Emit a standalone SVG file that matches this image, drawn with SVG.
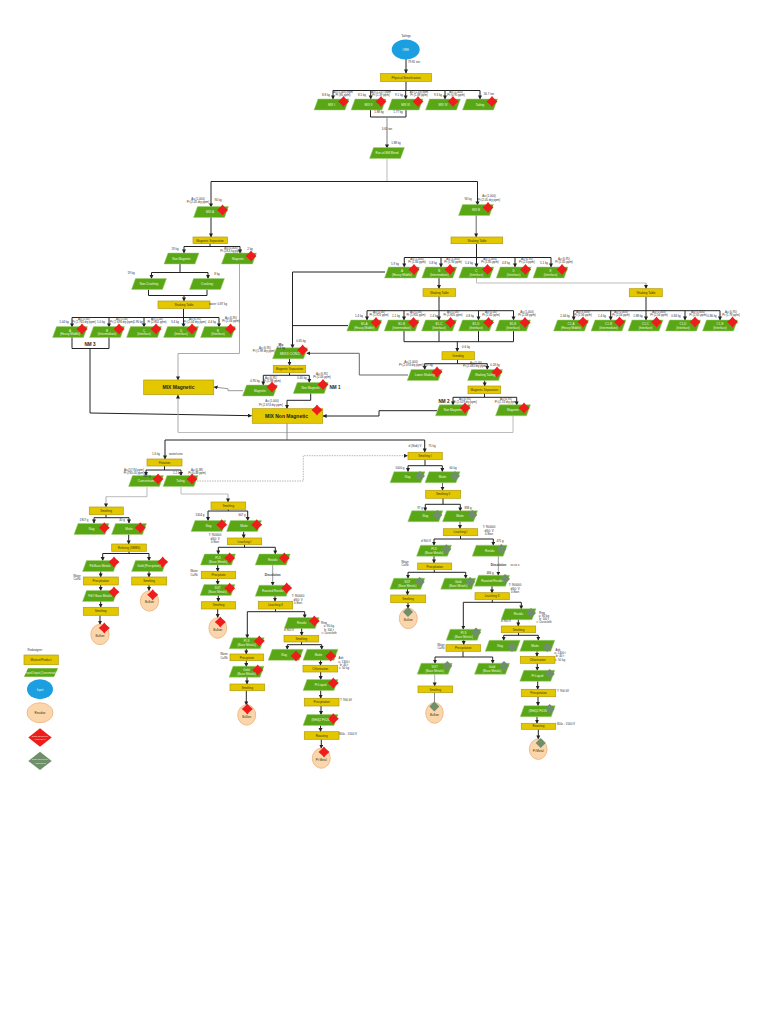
<svg xmlns="http://www.w3.org/2000/svg" width="768" height="1024" viewBox="0 0 768 1024">
<style>
text{font-family:"Liberation Sans",Arial,sans-serif;text-anchor:middle}
.r{fill:#e3c800;stroke:#b39a10;stroke-width:.7}
.t{font-size:2.9px;fill:#333}
.b{font-size:3px;fill:#3a3000}
.w{font-size:3px;fill:#eef8e0}
.h{font-size:5px;font-weight:bold;fill:#222}
.l{font-size:4.6px;font-weight:bold;fill:#222}
.k{fill:none;stroke:#222;stroke-width:1}
.g{fill:none;stroke:#bcbcbc;stroke-width:1}
.a{marker-end:url(#ar)}
.e{fill:#fbd6ac;stroke:#eaa96a;stroke-width:.7}
</style>
<defs>
<marker id="ar" markerWidth="5" markerHeight="5" refX="3.6" refY="2" orient="auto" markerUnits="userSpaceOnUse"><path d="M0 0L4 2L0 4Z" fill="#222"/></marker>
<polygon id="p" points="-13.5,-5.5 17.5,-5.5 13.5,5.5 -17.5,5.5" fill="#5aa716" stroke="#a5cf7c" stroke-width=".5"/>
<polygon id="d" points="0,-5.5 1.8,-3.2 5.5,0 1.8,3.2 0,5.5 -1.8,3.2 -5.5,0 -1.8,-3.2" fill="#ee1c1c"/>
<polygon id="q" points="0,-5 5,0 0,5 -5,0" fill="#6f8f6a"/>
</defs>
<g id="connectors">
<path class="k a" d="M406 59V73"/>
<path class="k" d="M406 81.5V90.5M333 90.5H480"/>
<path class="k a" d="M333 90.5V99"/><path class="k a" d="M370.7 90.5V99"/><path class="k a" d="M405.7 90.5V99"/><path class="k a" d="M445 90.5V99"/><path class="k a" d="M480 90.5V99"/>
<path class="k" d="M370.5 110V117H406V110"/>
<path class="g" style="stroke:#888" d="M387 117V130"/>
<path class="k a" style="stroke:#777" d="M387 130V148"/>
<path class="g" d="M387 158.5V181"/>
<path class="k" d="M211 181.5H477.5"/>
<path class="k a" d="M211 181.5V207"/><path class="k a" d="M477.5 181.5V205"/>
<path class="k a" d="M211 217V237"/>
<path class="k" d="M210 243.6V246.5M184 246.5H240"/>
<path class="k a" d="M184 246.5V253"/><path class="k a" d="M240 246.5V253"/>
<path class="k" d="M180 263.5V272.5M151.5 272.5H208"/>
<path class="k a" d="M151.5 272.5V278.5"/><path class="k a" d="M208 272.5V278.5"/>
<path class="k" d="M148.5 289.5V295.5H207V289.5"/>
<path class="k a" d="M184 295.5V301"/>
<path class="k" d="M183.5 308.5V317.5M72 317.5H219"/>
<path class="k a" d="M72 317.5V327"/><path class="k a" d="M109 317.5V327"/><path class="k a" d="M144 317.5V327"/><path class="k a" d="M183.5 317.5V327"/><path class="k a" d="M219 317.5V327"/>
<path class="k" d="M72 337V348.5H109V337"/>
<path class="k a" d="M90 348.5V413L251.6 415.7"/>
<path class="g a" style="stroke:#aaa" d="M239.5 263.5V353.5H178V380"/>
<path class="g a" style="stroke:#aaa" d="M178 432.5V395"/>
<path class="g a" style="stroke:#999" d="M243 390.7H228V388.7L214 387"/>
<path class="g" d="M178 432.5H513V415.7"/>
<path class="k a" d="M476.2 215V237" style="stroke:#666"/>
<path class="k" d="M476.5 243.7V257.5M404.3 257.5H551"/>
<path class="k a" d="M404.3 257.5V267"/><path class="k a" d="M441 257.5V267"/><path class="k a" d="M476.5 257.5V267"/><path class="k a" d="M515 257.5V267"/><path class="k a" d="M551 257.5V267"/>
<path class="k a" d="M439 278V288.5"/>
<path class="g" d="M476.5 278V283H646"/><path class="k a" style="stroke:#999" d="M646 283V288.5"/>
<path class="k" d="M646 296.7V310.7M573.7 310.7H720"/>
<path class="k a" d="M573.7 310.7V320"/><path class="k a" d="M610.7 310.7V320"/><path class="k a" d="M646 310.7V320"/><path class="k a" d="M685 310.7V320"/><path class="k a" d="M720 310.7V320"/>
<path class="k" d="M439 296.3V310.7M367 310.7H513.5"/>
<path class="k a" d="M367 310.7V320"/><path class="k a" d="M404 310.7V320"/><path class="k a" d="M439 310.7V320"/><path class="k a" d="M478.5 310.7V320"/><path class="k a" d="M513.5 310.7V320"/>
<path class="k" d="M404 331V341.7H513.5V331M439 331V341.7M478.5 331V341.7"/>
<path class="k a" d="M457.3 341.7V351.5"/>
<path class="k" d="M457.5 359.7V363.7M424.7 363.7H487.3"/>
<path class="k a" d="M424.7 363.7V369.5"/><path class="k a" d="M487.3 363.7V369.5"/>
<path class="k" d="M385 272H292.5"/><path class="k a" d="M292.5 272V348"/>
<path class="k" d="M292.5 325.6H348"/>
<path class="k a" d="M289.5 358.7V365.3"/>
<path class="k" d="M289.5 372.7V375.3M263.3 375.3H309.3"/>
<path class="k a" d="M263.3 375.3V385"/><path class="k a" d="M309.3 375.3V382.5"/>
<path class="k a" d="M310.7 393V400.3H287V408.5"/>
<path class="k a" style="stroke:#666" d="M408 375H359.3V353.3H306.8"/>
<path class="k a" d="M484.7 380.3V386"/>
<path class="k" d="M484.5 393.7V397.3M453 397.3H516.7"/>
<path class="k a" d="M453 397.3V405"/><path class="k a" d="M516.7 397.3V405"/>
<path class="k a" d="M437 410.7H379V416H323"/>
<path class="g" style="stroke:#888" d="M287 423.3V439.7"/>
<path class="k" d="M165 440H424.7"/>
<path class="k a" d="M165 440V459"/><path class="k a" d="M424.7 440V452"/>
<path class="k" d="M164.5 466V470M146 470H181"/>
<path class="k a" d="M146 470V475.5"/><path class="k a" d="M181 470V475.5"/>
<path class="k a" style="stroke:#888;stroke-width:.6;stroke-dasharray:1.5 1" d="M197 481H303.3V455.7H407.5"/>
<path class="g" d="M147 487V496.7H106"/><path class="k a" style="stroke:#aaa" d="M106 496.7V507"/>
<path class="g" d="M181 487V494H228"/><path class="k a" style="stroke:#aaa" d="M228 494V502"/>
<path class="k" d="M106 514.7V517.7M94 517.7H129"/>
<path class="k a" d="M94 517.7V523"/><path class="k a" d="M129 517.7V523"/>
<path class="k a" d="M128.7 534.3V544"/>
<path class="k" d="M129 551.3V553.5M102.7 553.5H149"/>
<path class="k a" d="M102.7 553.5V560.7"/><path class="k a" d="M149 553.5V560.7"/>
<path class="k a" d="M100.7 571V577"/><path class="k a" d="M149 571V577"/>
<path class="k a" d="M100.7 585V590.7"/><path class="k a" d="M149 585V590.7"/>
<path class="k a" d="M100.7 601V607.3"/><path class="k a" d="M100 615.3V624.3"/>
<path class="k" d="M228.3 509.3V511M208 511H247.7"/>
<path class="k a" d="M208 511V520.7"/><path class="k a" d="M247.7 511V520.7"/>
<path class="k a" d="M243.7 531.7V538"/>
<path class="k" d="M244.5 544.7V547.3M218.3 547.3H275.3"/>
<path class="k a" d="M218.3 547.3V554"/><path class="k a" d="M275.3 547.3V554"/>
<path class="k a" d="M217.7 565V571.3"/><path class="k a" d="M217.7 578.7V584.7"/><path class="k a" d="M218.3 595.3V601.7"/><path class="k a" d="M217.7 609V617.7"/>
<path class="g a" style="stroke:#999" d="M272.7 565V585.3"/>
<path class="k a" d="M275 596V601.3"/>
<path class="k" d="M275.5 609V611.7M247.3 611.7H304.7"/>
<path class="k a" d="M247.3 611.7V638"/><path class="k a" d="M304.7 611.7V618"/>
<path class="k a" d="M246.3 648.7V654"/><path class="k a" d="M246.3 660.7V666.7"/><path class="k a" d="M247 676.7V684"/><path class="k a" d="M246.3 690.7V705"/>
<path class="k a" d="M301.7 628.3V635.3"/>
<path class="k" d="M301.5 642V644.7M287.3 644.7H321.7"/>
<path class="k a" d="M287.3 644.7V649.3"/><path class="k a" d="M321.7 644.7V649.3"/>
<path class="k a" d="M320.5 660.3V665.3"/><path class="k a" d="M320.7 672V679.7"/><path class="k a" d="M320.7 690.3V698.3"/><path class="k a" d="M321 706V714.7"/><path class="k a" d="M320.5 725.3V731.7"/><path class="k a" d="M321.3 739.3V748.3"/>
<path class="k" d="M425 459.7V465.7M408 465.7H442.3"/>
<path class="k a" d="M408 465.7V471.7"/><path class="k a" d="M442.3 465.7V471.7"/>
<path class="k a" style="stroke:#666" d="M442.5 482.7V490.3"/>
<path class="k" d="M443 498.3V504.3M425.3 504.3H460.3"/>
<path class="k a" d="M425.3 504.3V511"/><path class="k a" d="M460.3 504.3V511"/>
<path class="k a" style="stroke:#666" d="M460 521.3V528.7"/>
<path class="k" d="M460.5 535.7V539M434 539H493.3"/>
<path class="k a" d="M434 539V545.3"/><path class="k a" d="M493.3 539V545.3"/>
<path class="k a" d="M434 556V563"/>
<path class="k" d="M434.3 569.7V572.3M408 572.3H465.7"/>
<path class="k a" d="M408 572.3V578.3"/><path class="k a" d="M465.7 572.3V578.3"/>
<path class="k a" d="M407.5 589V595"/><path class="k a" d="M408 602.7V608.3"/>
<path class="g a" style="stroke:#999" d="M498.3 556V575.3"/>
<path class="k a" d="M492 586V593"/>
<path class="k" d="M492.3 600V602.3M463.3 602.3H521.3"/>
<path class="k a" d="M463.3 602.3V629.3"/><path class="k a" d="M521.3 602.3V609"/>
<path class="k a" d="M518.3 619.3V626"/>
<path class="k" d="M518.5 632.7V635.3M503.7 635.3H538.3"/>
<path class="k a" d="M503.7 635.3V640.3"/><path class="k a" d="M538.3 635.3V640.3"/>
<path class="k a" d="M537 651.3V656.3"/><path class="k a" d="M537.3 663.3V670.3"/><path class="k a" d="M537.7 681.3V689.3"/><path class="k a" d="M538 696.7V705.7"/><path class="k a" d="M537 716.7V723.3"/><path class="k a" d="M538.3 729.3V739"/>
<path class="k a" d="M463.7 640V644.7"/>
<path class="k" d="M463 651.3V657M435 657H492.7"/>
<path class="k a" d="M435 657V663.3"/><path class="k a" d="M492.7 657V663.3"/>
<path class="g a" style="stroke:#aaa" d="M434.7 674V686"/><path class="g" style="stroke:#888" d="M434.5 692.7V702.7"/>
</g>
<g id="nodes">
<g id="start"><ellipse cx="405.7" cy="49.5" rx="14" ry="10" fill="#1b9fe0"/><text class="w" x="405.7" y="50.5">ORE</text><text class="t" x="406" y="37">Tailings</text></g>
<g id="n1"><rect class="r" x="380.5" y="73.5" width="51" height="8"/><text class="b" x="406" y="78.5">Physical Beneficiation</text></g>
<g id="n2"><use href="#p" x="331.5" y="104.5"/><use href="#d" x="343.5" y="101.5"/><text class="w" x="331.5" y="105.5">MIX I</text></g>
<g id="n3"><use href="#p" x="368.5" y="104.5"/><use href="#d" x="381" y="101.5"/><text class="w" x="368.5" y="105.5">MIX II</text></g>
<g id="n4"><use href="#p" x="405.5" y="104.5"/><use href="#d" x="418" y="101.5"/><text class="w" x="405.5" y="105.5">MIX III</text></g>
<g id="n5"><use href="#p" x="443" y="104.5"/><use href="#d" x="453" y="101.5"/><text class="w" x="443" y="105.5">MIX IV</text></g>
<g id="n6"><use href="#p" x="480" y="104.5"/><use href="#d" x="492" y="101.5"/><text class="w" x="480" y="105.5">Tailing</text></g>
<g id="n7"><use href="#p" x="387" y="153"/><text class="w" x="387" y="154">Run-of-Mill Blend</text></g>
<g id="n8"><use href="#p" x="211" y="212"/><use href="#d" x="222.5" y="210"/><text class="w" x="210" y="213">MIX A</text></g>
<g id="n9"><rect class="r" x="193" y="237" width="34.5" height="6.6"/><text class="b" x="210" y="241.5">Magnetic Separation</text></g>
<g id="n10"><use href="#p" x="181.5" y="258.5"/><text class="w" x="181.5" y="259.5">Non Magnetic</text></g>
<g id="n11"><use href="#p" x="239" y="258.5"/><use href="#d" x="251" y="256"/><text class="w" x="238" y="259.5">Magnetic</text></g>
<g id="n12"><use href="#p" x="149" y="284"/><text class="w" x="149" y="285">Non-Crushing</text></g>
<g id="n13"><use href="#p" x="207" y="284"/><text class="w" x="207" y="285">Crushing</text></g>
<g id="n14"><rect class="r" x="158" y="301" width="52" height="7.5"/><text class="b" x="184" y="305.8">Shaking Table</text></g>
<g id="n15"><use href="#p" x="70" y="332"/><use href="#d" x="82" y="329"/><text class="w" x="70" y="331.5">A</text><text class="w" x="70" y="335">(Heavy Middle)</text></g>
<g id="n16"><use href="#p" x="107" y="332"/><use href="#d" x="119" y="329"/><text class="w" x="107" y="331.5">B</text><text class="w" x="107" y="335">(Intermediate)</text></g>
<g id="n17"><use href="#p" x="144" y="332"/><use href="#d" x="156" y="329"/><text class="w" x="144" y="331.5">C</text><text class="w" x="144" y="335">(Interface)</text></g>
<g id="n18"><use href="#p" x="181" y="332"/><use href="#d" x="192" y="329"/><text class="w" x="181" y="331.5">D</text><text class="w" x="181" y="335">(Interface)</text></g>
<g id="n19"><use href="#p" x="218" y="332"/><use href="#d" x="230.5" y="329"/><text class="w" x="218" y="331.5">E</text><text class="w" x="218" y="335">(Interface)</text></g>
<g id="mixmag"><rect class="r" x="143.7" y="380" width="70" height="14.7"/><text class="h" x="178.5" y="388.8">MIX Magnetic</text></g>
<g id="mixnon"><rect class="r" x="252.3" y="408.7" width="70.4" height="14.6"/><use href="#d" x="317" y="410"/><text class="h" x="286.5" y="417.5">MIX Non Magnetic</text></g>
<g id="n20"><use href="#p" x="476" y="210"/><use href="#d" x="488" y="207.5"/><text class="w" x="476" y="211">MIX B</text></g>
<g id="n21"><rect class="r" x="451" y="237" width="51.7" height="6.7"/><text class="b" x="477" y="241.5">Shaking Table</text></g>
<g id="n22"><use href="#p" x="402" y="272.5"/><use href="#d" x="414" y="269.5"/><text class="w" x="402" y="271.5">A</text><text class="w" x="402" y="275.5">(Heavy Middle)</text></g>
<g id="n23"><use href="#p" x="439.3" y="272.5"/><use href="#d" x="450" y="269.5"/><text class="w" x="439.3" y="271.5">B</text><text class="w" x="439.3" y="275.5">(Intermediate)</text></g>
<g id="n24"><use href="#p" x="476.3" y="272.5"/><use href="#d" x="487.5" y="269.5"/><text class="w" x="476.3" y="271.5">C</text><text class="w" x="476.3" y="275.5">(Interface)</text></g>
<g id="n25"><use href="#p" x="513.7" y="272.5"/><use href="#d" x="525.5" y="269.5"/><text class="w" x="513.7" y="271.5">D</text><text class="w" x="513.7" y="275.5">(Interface)</text></g>
<g id="n26"><use href="#p" x="550.5" y="272.5"/><use href="#d" x="562" y="269.5"/><text class="w" x="550.5" y="271.5">E</text><text class="w" x="550.5" y="275.5">(Interface)</text></g>
<g id="n27"><rect class="r" x="423" y="288.7" width="32.7" height="7.6"/><text class="b" x="439.3" y="293.5">Shaking Table</text></g>
<g id="n28"><rect class="r" x="629.3" y="288.7" width="33" height="8"/><text class="b" x="646" y="293.7">Shaking Table</text></g>
<g id="n29"><use href="#p" x="364.3" y="325.5"/><use href="#d" x="376" y="322.5"/><text class="w" x="364.3" y="324.5">B1-A</text><text class="w" x="364.3" y="328.5">(Heavy Middle)</text></g>
<g id="n30"><use href="#p" x="401.7" y="325.5"/><use href="#d" x="413.5" y="322.5"/><text class="w" x="401.7" y="324.5">B1-B</text><text class="w" x="401.7" y="328.5">(Intermediate)</text></g>
<g id="n31"><use href="#p" x="439" y="325.5"/><use href="#d" x="450.5" y="322.5"/><text class="w" x="439" y="324.5">B1-C</text><text class="w" x="439" y="328.5">(Interface)</text></g>
<g id="n32"><use href="#p" x="476" y="325.5"/><use href="#d" x="488.5" y="322.5"/><text class="w" x="476" y="324.5">B1-D</text><text class="w" x="476" y="328.5">(Interface)</text></g>
<g id="n33"><use href="#p" x="513" y="325.5"/><use href="#d" x="525" y="322.5"/><text class="w" x="513" y="324.5">B1-E</text><text class="w" x="513" y="328.5">(Interface)</text></g>
<g id="n34"><use href="#p" x="571" y="325.5"/><use href="#d" x="583" y="322"/><text class="w" x="571" y="324.5">C1-A</text><text class="w" x="571" y="328.5">(Heavy Middle)</text></g>
<g id="n35"><use href="#p" x="608.5" y="325.5"/><use href="#d" x="619.5" y="322"/><text class="w" x="608.5" y="324.5">C1-B</text><text class="w" x="608.5" y="328.5">(Intermediate)</text></g>
<g id="n36"><use href="#p" x="645.5" y="325.5"/><use href="#d" x="656.5" y="322"/><text class="w" x="645.5" y="324.5">C1-C</text><text class="w" x="645.5" y="328.5">(Interface)</text></g>
<g id="n37"><use href="#p" x="683" y="325.5"/><use href="#d" x="695" y="322"/><text class="w" x="683" y="324.5">C1-D</text><text class="w" x="683" y="328.5">(Interface)</text></g>
<g id="n38"><use href="#p" x="720" y="325.5"/><use href="#d" x="732.5" y="322"/><text class="w" x="720" y="324.5">C1-E</text><text class="w" x="720" y="328.5">(Interface)</text></g>
<g id="n39"><use href="#p" x="290" y="353.3"/><use href="#d" x="302.6" y="350"/><text class="w" style="font-size:3.6px" x="290" y="354.5">MIX3 CONC</text></g>
<g id="n40"><rect class="r" x="273.3" y="365.3" width="32.4" height="7.4"/><text class="b" x="289.5" y="370">Magnetic Separation</text></g>
<g id="n41"><use href="#p" x="260" y="390.5"/><use href="#d" x="272" y="387"/><text class="w" x="260" y="391.5">Magnetic</text></g>
<g id="n42"><use href="#p" x="310.7" y="388"/><use href="#d" x="323" y="384.5"/><text class="w" x="310.7" y="389">Non Magnetic</text></g>
<g id="n43"><rect class="r" x="442" y="351.7" width="32.4" height="8"/><text class="b" x="458" y="356.7">Grinding</text></g>
<g id="n44"><use href="#p" x="424.7" y="375"/><use href="#d" x="437" y="372"/><text class="w" x="424.7" y="376">Lower Shaking</text></g>
<g id="n45"><use href="#p" x="485" y="375"/><use href="#d" x="497" y="372"/><text class="w" x="485" y="376">Shaking Tailing</text></g>
<g id="n46"><rect class="r" x="468" y="386" width="32.7" height="7.7"/><text class="b" x="484.3" y="390.8">Magnetic Separation</text></g>
<g id="n47"><use href="#p" x="453" y="410.3"/><use href="#d" x="465" y="408"/><text class="w" x="453" y="411.3">Non Magnetic</text></g>
<g id="n48"><use href="#p" x="513" y="410.3"/><use href="#d" x="524" y="408"/><text class="w" x="513" y="411.3">Magnetic</text></g>
<g id="n49"><rect class="r" x="147" y="459" width="35" height="7"/><text class="b" x="164.5" y="463.5">Flotation</text></g>
<g id="n50"><use href="#p" x="146" y="481"/><use href="#d" x="158" y="479"/><text class="w" x="146" y="482">Concentrate</text></g>
<g id="n51"><use href="#p" x="180.5" y="481"/><use href="#d" x="192" y="479"/><text class="w" x="180.5" y="482">Tailing</text></g>
<g id="n52"><rect class="r" x="408" y="452.3" width="34.3" height="7.4"/><text class="b" x="425" y="457">Smelting I</text></g>
<g id="n53"><rect class="r" x="89.3" y="507" width="34" height="7.7"/><text class="b" x="106" y="511.8">Smelting</text></g>
<g id="n54"><use href="#p" x="91.5" y="529"/><use href="#d" x="104.3" y="527.7"/><text class="w" x="91.5" y="530">Slag</text></g>
<g id="n55"><use href="#p" x="129" y="529"/><use href="#d" x="140.3" y="527.7"/><text class="w" x="129" y="530">Matte</text></g>
<g id="n56"><rect class="r" x="111.7" y="544" width="34.6" height="7.3"/><text class="b" x="129" y="548.7">Refining (SMBS)</text></g>
<g id="n57"><use href="#p" x="100" y="566"/><use href="#d" x="114" y="562"/><text class="w" x="100" y="567">Pd-Base Metals</text></g>
<g id="n58"><use href="#p" x="149" y="566"/><use href="#d" x="162.7" y="562"/><text class="w" x="149" y="567">Gold (Precipitate)</text></g>
<g id="n59"><rect class="r" x="83.3" y="577" width="35" height="8"/><text class="b" x="100.7" y="582">Precipitation</text></g>
<g id="n60"><rect class="r" x="131.7" y="577" width="35" height="8"/><text class="b" x="149" y="582">Smelting</text></g>
<g id="n61"><use href="#p" x="100" y="596"/><use href="#d" x="114" y="592"/><text class="w" x="100" y="597">PdO Base Metals</text></g>
<g id="n62"><rect class="r" x="83.3" y="607.3" width="35" height="8"/><text class="b" x="100.7" y="612.3">Smelting</text></g>
<g id="n63"><ellipse class="e" cx="100" cy="634.5" rx="9.2" ry="10.2"/><use href="#d" x="104.3" y="628"/><text class="b" x="100" y="637">Bullion</text></g>
<g id="n64"><ellipse class="e" cx="149.5" cy="601" rx="9.2" ry="10.2"/><use href="#d" x="152.7" y="594.7"/><text class="b" x="149.5" y="603">Bullion</text></g>
<g id="n65"><rect class="r" x="211" y="502" width="34.7" height="7.3"/><text class="b" x="228.3" y="506.8">Smelting</text></g>
<g id="n66"><use href="#p" x="208.5" y="526"/><use href="#d" x="221.7" y="524.7"/><text class="w" x="208.5" y="527">Slag</text></g>
<g id="n67"><use href="#p" x="244" y="526"/><use href="#d" x="256.7" y="524.7"/><text class="w" x="244" y="527">Matte</text></g>
<g id="n68"><rect class="r" x="227.3" y="538" width="34.4" height="6.7"/><text class="b" x="244.5" y="542.5">Leaching I</text></g>
<g id="n69"><use href="#p" x="218" y="559.5"/><use href="#d" x="229.7" y="558"/><text class="w" x="218" y="558.5">PLS</text><text class="w" x="218" y="562.5">(Base Metals)</text></g>
<g id="n70"><use href="#p" x="272.7" y="559.5"/><use href="#d" x="284.3" y="558"/><text class="w" x="272.7" y="560.5">Residu</text></g>
<g id="n71"><rect class="r" x="201.3" y="571.3" width="34.4" height="7.4"/><text class="b" x="218.5" y="576">Precipitate</text></g>
<g id="n72"><use href="#p" x="217.5" y="590"/><use href="#d" x="229.7" y="588.3"/><text class="w" x="217.5" y="589">SGT</text><text class="w" x="217.5" y="593">(Base Metals)</text></g>
<g id="n73"><rect class="r" x="201.3" y="601.7" width="34.4" height="7.3"/><text class="b" x="218.5" y="606.3">Smelting</text></g>
<g id="n74"><ellipse class="e" cx="217.8" cy="628" rx="8.9" ry="10.3"/><use href="#d" x="220.3" y="622"/><text class="b" x="217.8" y="630.5">Bullion</text></g>
<g id="n75"><use href="#p" x="272.7" y="590.7"/><use href="#d" x="286.7" y="588"/><text class="w" x="272.7" y="591.7">Roasted Residu</text></g>
<g id="n76"><rect class="r" x="258.3" y="601.3" width="34.4" height="7.7"/><text class="b" x="275.5" y="606.2">Leaching II</text></g>
<g id="n77"><use href="#p" x="246.7" y="643.3"/><use href="#d" x="259.3" y="641"/><text class="w" x="246.7" y="642.3">PLS</text><text class="w" x="246.7" y="646.3">(Base Metals)</text></g>
<g id="n78"><use href="#p" x="301.7" y="623"/><use href="#d" x="314.3" y="621"/><text class="w" x="301.7" y="624">Residu</text></g>
<g id="n79"><rect class="r" x="230" y="654" width="33.7" height="6.7"/><text class="b" x="246.8" y="658.5">Precipitate</text></g>
<g id="n80"><use href="#p" x="246.5" y="671.7"/><use href="#d" x="257.7" y="670"/><text class="w" x="246.5" y="670.7">Gold</text><text class="w" x="246.5" y="674.7">(Base Metals)</text></g>
<g id="n81"><rect class="r" x="230" y="684" width="34.7" height="6.7"/><text class="b" x="247.3" y="688.5">Smelting</text></g>
<g id="n82"><ellipse class="e" cx="246.7" cy="715" rx="9" ry="10.2"/><use href="#d" x="247.3" y="709"/><text class="b" x="246.7" y="717.5">Bullion</text></g>
<g id="n83"><rect class="r" x="284" y="635.3" width="34.7" height="6.7"/><text class="b" x="301.3" y="639.8">Smelting</text></g>
<g id="n84"><use href="#p" x="285.7" y="654.8"/><use href="#d" x="296" y="656"/><text class="w" x="284" y="655.8">Slag</text></g>
<g id="n85"><use href="#p" x="320.5" y="654.8"/><use href="#d" x="330.7" y="656"/><text class="w" x="318.5" y="655.8">Matte</text></g>
<g id="n86"><rect class="r" x="303" y="665.3" width="34.7" height="6.7"/><text class="b" x="320.3" y="669.8">Chlorination</text></g>
<g id="n87"><use href="#p" x="320.5" y="685"/><use href="#d" x="333.3" y="683"/><text class="w" x="320.5" y="686">Pt Liquid</text></g>
<g id="n88"><rect class="r" x="304.3" y="698.3" width="34.7" height="7.7"/><text class="b" x="321.7" y="703.2">Precipitation</text></g>
<g id="n89"><use href="#p" x="320.5" y="720"/><use href="#d" x="333.3" y="718.7"/><text class="w" x="320.5" y="721">(NH4)2 PtCl6</text></g>
<g id="n90"><rect class="r" x="304.3" y="731.7" width="34.7" height="7.6"/><text class="b" x="321.7" y="736.5">Roasting</text></g>
<g id="n91"><ellipse class="e" cx="321.3" cy="758.3" rx="9" ry="10"/><use href="#d" x="324" y="752"/><text class="b" x="321.3" y="761">Pt Metal</text></g>
<g id="n92"><use href="#p" x="407.5" y="477.2"/><use href="#q" x="420" y="476"/><text class="w" x="407.5" y="478.2">Slag</text></g>
<g id="n93"><use href="#p" x="442.5" y="477.2"/><use href="#q" x="455" y="476"/><text class="w" x="442.5" y="478.2">Matte</text></g>
<g id="n94"><rect class="r" x="425.7" y="490.3" width="35" height="8"/><text class="b" x="443" y="495.3">Smelting II</text></g>
<g id="n95"><use href="#p" x="425.3" y="516.2"/><use href="#q" x="437.3" y="515"/><text class="w" x="425.3" y="517.2">Slag</text></g>
<g id="n96"><use href="#p" x="460" y="516.2"/><use href="#q" x="472.3" y="515"/><text class="w" x="460" y="517.2">Matte</text></g>
<g id="n97"><rect class="r" x="443.3" y="528.7" width="34.4" height="7"/><text class="b" x="460.5" y="533.2">Leaching I</text></g>
<g id="n98"><use href="#p" x="434" y="550.7"/><use href="#q" x="446.3" y="549.3"/><text class="w" x="434" y="549.7">PLS</text><text class="w" x="434" y="553.7">(Base Metals)</text></g>
<g id="n99"><use href="#p" x="489.7" y="550.7"/><use href="#q" x="501.3" y="549"/><text class="w" x="489.7" y="551.7">Residu</text></g>
<g id="n100"><rect class="r" x="417.7" y="563" width="34" height="6.7"/><text class="b" x="434.7" y="567.5">Precipitation</text></g>
<g id="n101"><use href="#p" x="407.3" y="583.7"/><use href="#q" x="419.7" y="582"/><text class="w" x="407.3" y="582.7">SGT</text><text class="w" x="407.3" y="586.7">(Base Metals)</text></g>
<g id="n102"><use href="#p" x="458.2" y="583.7"/><use href="#q" x="470" y="582"/><text class="w" x="458.2" y="582.7">Gold</text><text class="w" x="458.2" y="586.7">(Base Metals)</text></g>
<g id="n103"><rect class="r" x="390.7" y="595" width="35" height="7.7"/><text class="b" x="408" y="599.8">Smelting</text></g>
<g id="n104"><ellipse class="e" cx="408.3" cy="618.5" rx="9" ry="10.2"/><use href="#q" x="408" y="612"/><text class="b" x="408.3" y="621">Bullion</text></g>
<g id="n105"><use href="#p" x="492" y="580.7"/><use href="#q" x="505" y="579"/><text class="w" x="492" y="581.7">Roasted Residu</text></g>
<g id="n106"><rect class="r" x="475" y="592.7" width="34.3" height="7"/><text class="b" x="492" y="597.2">Leaching II</text></g>
<g id="n107"><use href="#p" x="463.7" y="634.7"/><use href="#q" x="476" y="632.5"/><text class="w" x="463.7" y="633.7">PLS</text><text class="w" x="463.7" y="637.7">(Base Metals)</text></g>
<g id="n108"><use href="#p" x="518.5" y="614.2"/><use href="#q" x="531" y="613"/><text class="w" x="518.5" y="615.2">Residu</text></g>
<g id="n109"><rect class="r" x="501.3" y="626" width="34.4" height="6.7"/><text class="b" x="518.5" y="630.5">Smelting</text></g>
<g id="n110"><use href="#p" x="502.7" y="645.8"/><use href="#q" x="512" y="647"/><text class="w" x="500" y="646.8">Slag</text></g>
<g id="n111"><use href="#p" x="537.3" y="645.8"/><use href="#q" x="547.3" y="647"/><text class="w" x="535" y="646.8">Matte</text></g>
<g id="n112"><rect class="r" x="520.3" y="656.3" width="34.7" height="7"/><text class="b" x="537.7" y="660.8">Chlorination</text></g>
<g id="n113"><use href="#p" x="537.3" y="675.8"/><use href="#q" x="549.7" y="674"/><text class="w" x="537.3" y="676.8">Pt Liquid</text></g>
<g id="n114"><rect class="r" x="521.3" y="689.3" width="34.4" height="7.4"/><text class="b" x="538.5" y="694">Precipitation</text></g>
<g id="n115"><use href="#p" x="537.7" y="711.2"/><use href="#q" x="549.7" y="709"/><text class="w" x="537.7" y="712.2">(NH4)2 PtCl6</text></g>
<g id="n116"><rect class="r" x="521.3" y="723.3" width="34.4" height="6"/><text class="b" x="538.5" y="727.3">Roasting</text></g>
<g id="n117"><ellipse class="e" cx="538.2" cy="749.2" rx="8.9" ry="10.2"/><use href="#q" x="540.7" y="743"/><text class="b" x="538.2" y="751.7">Pt Metal</text></g>
<g id="n118"><rect class="r" x="446" y="644.7" width="34.7" height="6.6"/><text class="b" x="463.3" y="649.2">Precipitation</text></g>
<g id="n119"><use href="#p" x="434.7" y="668.7"/><use href="#q" x="447.3" y="666"/><text class="w" x="434.7" y="667.7">SGT</text><text class="w" x="434.7" y="671.7">(Base Metals)</text></g>
<g id="n120"><use href="#p" x="492" y="668.7"/><use href="#q" x="504" y="666"/><text class="w" x="492" y="667.7">Gold</text><text class="w" x="492" y="671.7">(Base Metals)</text></g>
<g id="n121"><rect class="r" x="418" y="686" width="34.7" height="6.7"/><text class="b" x="435.3" y="690.5">Smelting</text></g>
<g id="n122"><ellipse class="e" cx="434.5" cy="713" rx="8.8" ry="10.3"/><use href="#q" x="434.3" y="706.5"/><text class="b" x="434.5" y="715.5">Bullion</text></g>
</g>
<g id="legend">
<text class="t" x="35" y="650.5">Redesigner</text>
<rect class="r" x="24" y="655" width="34.3" height="9.7"/><text class="b" x="41" y="661">Mixture/Product</text>
<polygon points="28,668.3 58,668.3 54,676.7 24,676.7" fill="#5aa716"/><text class="w" style="font-size:2.6px" x="41" y="673.5">Input/Output (Concentrate)</text>
<ellipse cx="40" cy="689.3" rx="13" ry="10" fill="#1b9fe0"/><text class="w" x="40" y="690.5">Input</text>
<ellipse class="e" cx="40" cy="712.7" rx="13" ry="10"/><text class="b" x="40" y="714">Residue</text>
<polygon points="40,728.3 51.7,737.5 40,746.7 28.3,737.5" fill="#ee1c1c"/><text class="w" style="font-size:2.5px" x="40" y="736.5">Gold Recovery</text><text class="w" style="font-size:2.5px" x="40" y="740">Analysis 1</text>
<polygon points="40,751.7 51.7,761 40,770 28.3,761" fill="#6f8f6a"/><text class="w" style="font-size:2.5px" x="40" y="760">Gold Recovery</text><text class="w" style="font-size:2.5px" x="40" y="763.5">Analysis 2</text>
</g>
<g id="labels">
<text class="t" x="414" y="63">79.81 ton</text>
<text class="t" x="326" y="96">8.8 kg</text><text class="t" x="343" y="92.5">Au (1.000) ppm</text><text class="t" x="343" y="96">Pt (85 ppm)</text>
<text class="t" x="362" y="96">8.5 kg</text><text class="t" x="381" y="92.5">Au (1.257) ppm</text><text class="t" x="381" y="96">Pt (2.39 ppm)</text>
<text class="t" x="399" y="96">9.1 kg</text><text class="t" x="419" y="92.5">Au (1.18) ppm</text><text class="t" x="419" y="96">Pt (1.88 ppm)</text>
<text class="t" x="438" y="96">9.3 kg</text><text class="t" x="456" y="92.5">Au (1.000)</text><text class="t" x="456" y="96">Pt (0.95 ppm)</text>
<text class="t" x="489" y="95">56.7 ton</text>
<text class="t" x="379" y="113">1.88 kg</text><text class="t" x="398" y="113">1.77 kg</text>
<text class="t" x="387" y="130">3.65 ton</text><text class="t" x="396" y="144">1.88 kg</text>
<text class="t" x="198" y="200">Au (1.000)</text><text class="t" x="198" y="203">Pt (2.05 dry ppm)</text><text class="t" x="218" y="201">94 kg</text>
<text class="t" x="468" y="200">94 kg</text><text class="t" x="489" y="197">Au (1.000)</text><text class="t" x="489" y="200.5">Pt (2.05 dry ppm)</text>
<text class="t" x="175" y="250">19 kg</text><text class="t" x="231" y="249">Au (0.000)</text><text class="t" x="231" y="252">Pt (28.4 kg ppm)</text><text class="t" x="250" y="250">2 kg</text>
<text class="t" x="131" y="274">19 kg</text><text class="t" x="217" y="275">8 kg</text><text class="t" x="218" y="305">water: 0.87 kg</text>
<text class="t" x="64" y="323">1.04 kg</text><text class="t" x="84" y="320">Au (1.00)</text><text class="t" x="84" y="323">Pt (2.765 dry ppm)</text>
<text class="t" x="101" y="323">1.0 kg</text><text class="t" x="122" y="320">Au (1.00)</text><text class="t" x="122" y="323">Pt (2.696 dry ppm)</text>
<text class="t" x="138" y="323">1.96 kg</text><text class="t" x="157" y="320">Au (1.00)</text><text class="t" x="157" y="323">Pt (2.801 ppm)</text>
<text class="t" x="175" y="323">3.4 kg</text><text class="t" x="195" y="320">Au (0.95)</text><text class="t" x="195" y="323">Pt (2.04 dry ppm)</text>
<text class="t" x="212" y="323">4.4 kg</text><text class="t" x="231" y="319">Au (0.95)</text><text class="t" x="231" y="322">Pt (2.04 ppm)</text>
<text class="l" x="90" y="346">NM 3</text>
<text class="t" x="395" y="265">5.9 kg</text><text class="t" x="417" y="260">Au (1.000)</text><text class="t" x="417" y="263">Pt (1.84 ppm)</text>
<text class="t" x="433" y="264">5.8 kg</text><text class="t" x="453" y="260">Au (1.000)</text><text class="t" x="453" y="263">Pt (1.94 ppm)</text>
<text class="t" x="469" y="264">5.4 kg</text><text class="t" x="490" y="260">Au (1.000)</text><text class="t" x="490" y="263">Pt (1.85 ppm)</text>
<text class="t" x="506" y="264">4.8 kg</text><text class="t" x="527" y="260">Au (0.95)</text><text class="t" x="527" y="263">Pt (2.0 ppm)</text>
<text class="t" x="544" y="264">5.1 kg</text><text class="t" x="564" y="260">Au (0.95)</text><text class="t" x="564" y="263">Pt (2.05 ppm)</text>
<text class="t" x="359" y="317">1.4 kg</text><text class="t" x="379" y="312.5">Au (1.00)</text><text class="t" x="379" y="316">Pt (1.925 ppm)</text>
<text class="t" x="396" y="317">1.1 kg</text><text class="t" x="416" y="312.5">Au (1.00)</text><text class="t" x="416" y="316">Pt (1.905 ppm)</text>
<text class="t" x="434" y="317">1.4 kg</text><text class="t" x="453" y="312.5">Au (1.00)</text><text class="t" x="453" y="316">Pt (1.805 ppm)</text>
<text class="t" x="470" y="317">0.8 kg</text><text class="t" x="491" y="312.5">Au (1.00)</text><text class="t" x="491" y="316">Pt (2.05 ppm)</text>
<text class="t" x="527" y="313">Au (1.000)</text><text class="t" x="527" y="316">Pt (2.08 ppm)</text>
<text class="t" x="466" y="347.5">0.6 kg</text>
<text class="t" x="565" y="317">2.44 kg</text><text class="t" x="583" y="312.5">Au (1.000)</text><text class="t" x="583" y="316">Pt (2.06 ppm)</text>
<text class="t" x="602" y="317">1.4 kg</text><text class="t" x="621" y="312.5">Au (1.000)</text><text class="t" x="621" y="316">Pt (2.04 ppm)</text>
<text class="t" x="638" y="317">1.88 kg</text><text class="t" x="659" y="312.5">Au (1.000)</text><text class="t" x="659" y="316">Pt (2.04 ppm)</text>
<text class="t" x="676" y="317">0.84 kg</text><text class="t" x="698" y="312.5">Au (1.000)</text><text class="t" x="698" y="316">Pt (2.05 ppm)</text>
<text class="t" x="712" y="317">0.86 kg</text><text class="t" x="731" y="312.5">Au (0.95)</text><text class="t" x="731" y="316">Pt (1.78 ppm)</text>
<text class="t" x="281" y="346" style="font-weight:bold">Mix</text><text class="t" x="281" y="349">8.9 kg</text><text class="t" x="265" y="349">Au (0.95)</text><text class="t" x="264" y="352">Pt (1.98 dry ppm)</text><text class="t" x="301" y="342">0.65 kg</text>
<text class="t" x="255" y="382">0.95 kg</text><text class="t" x="271" y="378.5">Au (0.95)</text><text class="t" x="272" y="381.5">Pt (1.88 ppm)</text>
<text class="t" x="302" y="379">0.65 kg</text><text class="t" x="322" y="375">Au (0.95)</text><text class="t" x="322" y="378">Pt (2.04 ppm)</text>
<text class="l" x="335" y="389">NM 1</text>
<text class="t" x="272" y="402">Au (1.000)</text><text class="t" x="271" y="406">Pt (2.674 dry ppm)</text>
<text class="t" x="411" y="362.5">Au (1.000)</text><text class="t" x="411" y="366">Pt (2.074 dry ppm)</text><text class="t" x="428" y="366">0.07 kg</text>
<text class="t" x="476" y="364">Au (1.00)</text><text class="t" x="475" y="367">Pt (2.085 dry ppm)</text><text class="t" x="495" y="366">0.18 kg</text>
<text class="l" x="444" y="403">NM 2</text>
<text class="t" x="465" y="399.5">Au (0.95)</text><text class="t" x="465" y="403">Pt (2.019 dry ppm)</text>
<text class="t" x="506" y="399.5">Au (0.95)</text><text class="t" x="506" y="403">Pt (2.74 dry ppm)</text>
<text class="t" x="156" y="455">1.6 kg</text><text class="t" x="176" y="455">water/conc</text>
<text class="t" x="134" y="471">Au (57.94 ppm)</text><text class="t" x="134" y="474">Pt (765.05 ppm)</text><text class="t" x="147" y="477">400 g</text>
<text class="t" x="197" y="471">Au (0.38)</text><text class="t" x="197" y="474">Pt (0.48 ppm)</text><text class="t" x="177" y="474">1.2 kg</text>
<text class="t" x="415" y="447">d (Slab) V</text><text class="t" x="432" y="447">75 kg</text>
<text class="t" x="400" y="469">5000 g</text><text class="t" x="453" y="469">60 kg</text>
<text class="t" x="420" y="509">97 g</text><text class="t" x="468" y="509">838 g</text>
<text class="t" x="489" y="528">T: 900000</text><text class="t" x="489" y="531.5">d/60: V</text><text class="t" x="489" y="535">0.8ton</text>
<text class="t" x="426" y="542">d 900 V</text><text class="t" x="500" y="542">475 g</text>
<text class="t" x="405" y="563">Water</text><text class="t" x="405" y="566">Cu/Ni</text>
<text class="t" x="498.5" y="566" style="font-weight:bold">Dissolution</text><text class="t" x="515" y="565.5">xx xx x</text>
<text class="t" x="490" y="573.5">484 g</text>
<text class="t" x="515" y="586">T: 900000</text><text class="t" x="515" y="589.5">d/60: V</text><text class="t" x="515" y="593">0.8ton</text>
<text class="t" x="506" y="621.5">d 900 V</text>
<text class="t" x="542" y="614">Ring</text><text class="t" x="544" y="617">a: 80 kg</text><text class="t" x="544" y="620">b: 100 t</text><text class="t" x="544" y="623">c: Dustcloth</text>
<text class="t" x="558" y="651">Ash</text><text class="t" x="560" y="654">a: 1300 t</text><text class="t" x="560" y="657">b: 40 t</text><text class="t" x="560" y="660.5">c: 50 kg</text>
<text class="t" x="563" y="692">T: 900 kV</text><text class="t" x="566" y="725">800c - 5500 V</text>
<text class="t" x="441" y="646">Water</text><text class="t" x="441" y="649">Cu/Ni</text>
<text class="t" x="84" y="521">1907 g</text><text class="t" x="122" y="521">40 g</text>
<text class="t" x="77" y="577">Water</text><text class="t" x="77" y="580">Cu/Ni</text>
<text class="t" x="200" y="516">5304 g</text><text class="t" x="242" y="516">607 g</text>
<text class="t" x="215" y="536">T: 900000</text><text class="t" x="215" y="539.5">d/60: V</text><text class="t" x="215" y="543">0.8ton</text>
<text class="t" x="194" y="572">Water</text><text class="t" x="194" y="575.5">Cu/Ni</text>
<text class="t" x="272.7" y="576" style="font-weight:bold">Dissolution</text>
<text class="t" x="298" y="597">T: 900000</text><text class="t" x="298" y="600.5">d/60: V</text><text class="t" x="298" y="604">0.8ton</text>
<text class="t" x="289" y="631">d 900 V</text>
<text class="t" x="324" y="624">Ring</text><text class="t" x="329" y="627">a: 80 kg</text><text class="t" x="329" y="630.5">b: 100 t</text><text class="t" x="329" y="633.5">c: Dustcloth</text>
<text class="t" x="224" y="655">Water</text><text class="t" x="224" y="658.5">Cu/Ni</text>
<text class="t" x="341" y="659">Ash</text><text class="t" x="344" y="662.5">a: 1300 t</text><text class="t" x="344" y="665.5">b: 40 t</text><text class="t" x="344" y="669">c: 50 kg</text>
<text class="t" x="346" y="701">T: 900 kV</text><text class="t" x="348" y="735">800c - 5500 V</text>
</g>
</svg>
